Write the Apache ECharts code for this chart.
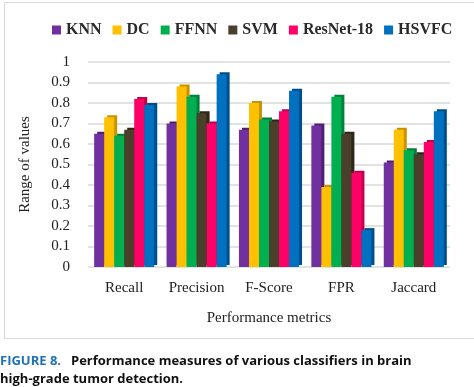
<!DOCTYPE html>
<html>
<head>
<meta charset="utf-8">
<script src="https://cdn.jsdelivr.net/npm/echarts@6/dist/echarts.min.js"></script>
<style>html,body{margin:0;padding:0;background:#fff;}#c{width:474px;height:387px;}</style>
</head>
<body>
<div id="c"></div>
<script>
var categories = ['Recall', 'Precision', 'F-Score', 'FPR', 'Jaccard'];
var seriesNames = ['KNN', 'DC', 'FFNN', 'SVM', 'ResNet-18', 'HSVFC'];
var KNN    = [0.65, 0.70, 0.67, 0.69, 0.51];
var DC     = [0.73, 0.88, 0.80, 0.39, 0.67];
var FFNN   = [0.64, 0.83, 0.72, 0.83, 0.57];
var SVM    = [0.67, 0.75, 0.71, 0.65, 0.55];
var ResNet = [0.82, 0.70, 0.76, 0.46, 0.61];
var HSVFC  = [0.79, 0.94, 0.86, 0.18, 0.76];
var yTicks = ['0','0.1','0.2','0.3','0.4','0.5','0.6','0.7','0.8','0.9','1'];

var values = [KNN, DC, FFNN, SVM, ResNet, HSVFC];
var colors = ['#7030A0', '#FFC000', '#00B050', '#4A3F2A', '#FF0066', '#0070C0'];
var sideColors = ['#4e1f72', '#c79300', '#00803a', '#2e2618', '#c2004c', '#004f8a'];
var serif = '"Liberation Serif", "DejaVu Serif", serif';
var capFont = 'bold 13px "Open Sans", Lato, sans-serif';

var chart = echarts.init(document.getElementById('c'));
chart.setOption({
  backgroundColor: '#fff',
  animation: false,
  graphic: [
    { type: 'rect', shape: { x: 4.5, y: 2.5, width: 480, height: 336 }, style: { fill: 'none', stroke: '#d9d9d9', lineWidth: 1 } },
    { type: 'text', left: 0, top: 355, style: { text: 'FIGURE 8.', fill: '#1f72b8', font: capFont } },
    { type: 'text', left: 71, top: 355, style: { text: 'Performance measures of various classifiers in brain', fill: '#111', font: capFont } },
    { type: 'text', left: 0, top: 373, style: { text: 'high-grade tumor detection.', fill: '#111', font: capFont } }
  ],
  legend: {
    top: 17, left: 47,
    itemWidth: 9, itemHeight: 9, itemGap: 11,
    icon: 'rect',
    textStyle: { fontFamily: serif, fontWeight: 'bold', fontSize: 16, color: '#2a2a2a' },
    data: seriesNames
  },
  grid: { left: 88, right: 24, top: 62, bottom: 120 },
  xAxis: {
    type: 'category',
    data: categories,
    axisLine: { show: false },
    axisTick: { show: false },
    axisLabel: { interval: 0, margin: 14, fontFamily: serif, fontSize: 15, color: '#222' },
    name: 'Performance metrics',
    nameLocation: 'middle',
    nameGap: 44,
    nameTextStyle: { fontFamily: serif, fontSize: 15, color: '#222' }
  },
  yAxis: {
    type: 'value',
    min: 0, max: 1, interval: 0.1,
    axisLine: { show: false },
    axisTick: { show: false },
    splitLine: { lineStyle: { color: '#d9d9d9', width: 1.5 } },
    axisLabel: {
      margin: 18, fontFamily: serif, fontSize: 15, color: '#222',
      formatter: function (v) { return yTicks[Math.round(v * 10)]; }
    },
    name: 'Range of values',
    nameLocation: 'middle',
    nameGap: 55,
    nameTextStyle: { fontFamily: serif, fontSize: 15, color: '#222' }
  },
  series: seriesNames.map(function (n, i) {
    return {
      name: n, type: 'bar',
      data: values[i],
      barGap: '0%',
      barCategoryGap: '17%',
      itemStyle: {
        color: colors[i],
        shadowColor: sideColors[i], shadowBlur: 0, shadowOffsetX: 3, shadowOffsetY: -2
      }
    };
  })
});
</script>
</body>
</html>
